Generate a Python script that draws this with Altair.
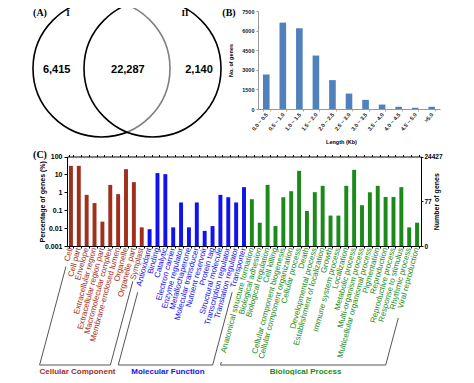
import math
import altair as alt
import pandas as pd

# ---------------- data ----------------
venn_sets = ["I", "II"]
venn_regions = ["I only", "I and II", "II only"]
venn_counts = [6415, 22287, 2140]

len_bins = ["0.0 ~ 0.5", "0.5 ~ 1.0", "1.0 ~ 1.5", "1.5 ~ 2.0", "2.0 ~ 2.5", "2.5 ~ 3.0",
            "3.0 ~ 3.5", "3.5 ~ 4.0", "4.0 ~ 4.5", "4.5 ~ 5.0", ">5.0"]
len_counts = [2640, 6610, 6180, 4090, 2210, 1180, 700, 340, 170, 95, 170]
len_ticks = [0, 1500, 3000, 4500, 6000, 7500]

cc_terms = ["Cell", "Cell part", "Envelope", "Extracellular region", "Extracellular region part",
            "Macromolecular complex", "Membrane-enclosed lumen", "Organelle", "Organelle part",
            "Symplast"]
cc_pct = [30, 30, 0.72, 0.25, 0.023, 2.6, 0.79, 19.6, 3.7, 0.011]
mf_terms = ["Antioxidant", "Binding", "Catalytic", "Electron carrier", "Enzyme regulator",
            "Metallochaperone", "Molecular transducer", "Nutrient reservoir", "Protein tag",
            "Structural molecule", "Transcription regulator", "Translation regulator",
            "Transporter"]
mf_pct = [0.0087, 11.8, 10.3, 0.011, 0.27, 0.011, 0.27, 0.007, 0.013, 0.72, 0.53, 0.27, 1.94]
bp_terms = ["Anatomical structure formation", "Biological adhesion", "Biological regulation",
            "Cell killing", "Cellular component biogenesis", "Cellular component organization",
            "Cellular process", "Death", "Developmental process",
            "Establishment of localization", "Growth", "Immune system process", "Localization",
            "Metabolic process", "Multi-organism process", "Multicellular organismal process",
            "Pigmentation", "Reproduction", "Reproductive process", "Response to stimulus",
            "Rhythmic process", "Viral reproduction"]
bp_pct = [0.41, 0.020, 2.6, 0.013, 0.53, 1.15, 15.8, 0.09, 1.02, 2.3, 0.050, 0.050, 2.3, 18,
          0.19, 1.0, 2.3, 0.55, 0.55, 1.94, 0.011, 0.020]
go_groups = ["Cellular Component", "Molecular Function", "Biological Process"]
go_pct_ticks = [0.001, 0.01, 0.1, 1, 10, 100]

# ---------------- layout / style ----------------
W, H = 458, 367
SANS = "Liberation Sans"
SERIF = "Liberation Serif"
go_colors = ["#a0301c", "#1212ee", "#1b8a1b"]
bar_blue = "#4f81bd"

# panel C geometry (chart pixels)
C_LEFT, C_RIGHT, C_TOP, C_BOT = 59, 413, 148.5, 238
LABEL_ANGLE = 75
label_gap = 2
char_w = 3.8
bracket_depth = 119

# ---------------- panel A : Venn ----------------
venn_df = pd.DataFrame({"set": venn_sets})
vx = alt.X("set:N", scale=alt.Scale(type="point", domain=venn_sets, range=[93.5, 144.5], padding=0), axis=None)
vy = alt.YDatum(0, type="quantitative",
                scale=alt.Scale(domain=[-1, 1], range=[121, 0], nice=False, zero=False), axis=None)
circle_I = alt.Chart(venn_df).transform_filter("datum.set == 'I'").mark_point(
    shape="circle", size=18769, filled=False, color="black", strokeWidth=1.6, opacity=1
).encode(x=vx, y=vy)
circle_II = alt.Chart(venn_df).transform_filter("datum.set == 'II'").mark_point(
    shape="circle", size=18769, filled=True, fill="white", fillOpacity=0.5,
    stroke="black", strokeWidth=1.6, strokeOpacity=1, opacity=1
).encode(x=vx, y=vy)

vt_df = pd.DataFrame({"region": venn_regions, "count": venn_counts})
venn_text = alt.Chart(vt_df).mark_text(font=SANS, fontWeight="bold", fontSize=11, color="black").encode(
    x=alt.X("region:N", scale=alt.Scale(type="point", domain=venn_regions, range=[48.7, 191], padding=0), axis=None),
    y=alt.YDatum(0, type="quantitative",
                 scale=alt.Scale(domain=[-1, 1], range=[124, 0], nice=False, zero=False), axis=None),
    text=alt.Text("count:Q", format=","),
)


def note(text, x, y, size=10, baseline="top", font=SERIF):
    return alt.Chart(pd.DataFrame({"t": [text]})).mark_text(
        font=font, fontWeight="bold", fontSize=size, align="center", baseline=baseline, color="black"
    ).encode(x=alt.value(x), y=alt.value(y), text="t:N")


notes = [note("(A)", 32, 0), note("(B)", 221, 0), note("(C)", 32, 147, baseline="middle"),
         note("I", 60, 1, size=9), note("II", 177, 1, size=9)]

# ---------------- panel B : length histogram ----------------
len_df = pd.DataFrame({"bin": len_bins, "genes": len_counts})
panel_b = alt.Chart(len_df).mark_bar(color=bar_blue).encode(
    x=alt.X("bin:N", sort=len_bins,
            scale=alt.Scale(type="band", domain=len_bins, range=[250, 432], paddingInner=0.6, paddingOuter=0.3),
            axis=alt.Axis(orient="bottom", offset=-266, title="Length (Kb)", labelAngle=-50,
                          labelFontSize=5.5, labelFontWeight="bold", labelColor="#222", labelPadding=2,
                          domainColor="#999", tickColor="#c8a878", tickBand="extent", tickSize=2,
                          titleFontSize=5.5, titleFontWeight="bold", titleX=333, titleY=32,
                          titleBaseline="middle")),
    y=alt.Y("genes:Q", scale=alt.Scale(domain=[0, 7500], range=[101, 3], nice=False),
            axis=alt.Axis(orient="left", offset=-250, values=len_ticks, format="d", title="No. of genes",
                          labelFontSize=5.5, labelFontWeight="bold", labelColor="#222", labelPadding=2,
                          domainColor="#999", tickColor="#999", tickSize=2,
                          titleFontSize=5.5, titleFontWeight="bold", titleX=-25)),
)

# ---------------- panel C : GO classification ----------------
terms = cc_terms + mf_terms + bp_terms
pcts = cc_pct + mf_pct + bp_pct
groups = ([go_groups[0]] * len(cc_terms) + [go_groups[1]] * len(mf_terms)
          + [go_groups[2]] * len(bp_terms))
go_df = pd.DataFrame({"term": terms, "pct": pcts, "group": groups})
total_II = venn_counts[1] + venn_counts[2]

band = alt.Scale(type="band", domain=terms, range=[C_LEFT, C_RIGHT], paddingInner=0.5, paddingOuter=0.25)
color_enc = alt.Color("group:N", scale=alt.Scale(domain=go_groups, range=go_colors), legend=None)
log_pct = alt.Scale(type="log", domain=[0.001, 100], range=[C_BOT, C_TOP], nice=False)
depth_scale = alt.Scale(domain=[0, bracket_depth], range=[C_BOT, C_BOT + bracket_depth], nice=False, zero=False)

go_bars = alt.Chart(go_df).mark_bar().encode(
    x=alt.X("term:N", sort=terms, scale=band,
            axis=alt.Axis(orient="bottom", offset=-(H - C_BOT), labels=False, title=None,
                          domainColor="black", tickColor="black", tickSize=2, tickBand="extent")),
    y=alt.Y("pct:Q", scale=log_pct,
            axis=alt.Axis(orient="left", offset=-C_LEFT, values=go_pct_ticks,
                          labelExpr="format(datum.value, '~g')", title="Percentage of genes (%)",
                          labelFontSize=7, labelFontWeight="bold", labelColor="black", labelPadding=2,
                          domainColor="black", tickColor="black", tickSize=3,
                          titleFontSize=7, titleFontWeight="bold", titleX=-22)),
    y2=alt.Y2Datum(0.001),
    color=color_enc,
)

go_labels = alt.Chart(go_df).mark_text(
    angle=360 - LABEL_ANGLE, align="right", baseline="middle", fontSize=8, font=SANS
).encode(
    x=alt.X("term:N", sort=terms, scale=band,
            axis=alt.Axis(orient="top", offset=-C_TOP, labels=False, title=None,
                          domainColor="black", tickColor="black", tickSize=2, tickBand="extent")),
    y=alt.YDatum(label_gap, type="quantitative", scale=depth_scale, axis=None),
    text="term:N",
    color=color_enc,
)

go_counts = alt.Chart(go_df).transform_calculate(
    genes=f"datum.pct * {total_II} / 100"
).mark_point(opacity=0).encode(
    x=alt.X("term:N", sort=terms, scale=band, axis=None),
    y=alt.Y("genes:Q",
            scale=alt.Scale(type="log", domain=[total_II * 0.001 / 100, total_II],
                            range=[C_BOT, C_TOP], nice=False),
            axis=alt.Axis(orient="right", offset=-(W - C_RIGHT),
                          values=[total_II * 0.001 / 100, math.sqrt(total_II * 0.001 / 100 * total_II), total_II],
                          labelExpr="format(datum.value, '.0f')", title="Number of genes",
                          labelFontSize=6.5, labelFontWeight="bold", labelColor="black", labelPadding=1,
                          domainColor="black", tickColor="black", tickSize=2,
                          titleFontSize=7, titleFontWeight="bold", titleAngle=270, titleX=18)),
)

# brackets under each GO group (follow the slant of the first / last label)
step = (C_RIGHT - C_LEFT) / len(terms)
ca, sa = math.cos(math.radians(LABEL_ANGLE)), math.sin(math.radians(LABEL_ANGLE))
s_bot = (bracket_depth - label_gap) / sa
rows, grp_rows = [], []
start = 0
for g, lst in zip(go_groups, [cc_terms, mf_terms, bp_terms]):
    f, l = start, start + len(lst) - 1
    s_f = min(len(lst[0]) * char_w + 4, s_bot)
    s_l = min(len(lst[-1]) * char_w + 4, s_bot)
    pts = [(f, s_f), (f, s_bot), (l, s_bot), (l, s_l)]
    for k, (i, s) in enumerate(pts):
        rows.append({"group": g, "ord": k, "xi": i + 0.5 - s * ca / step, "depth": label_gap + s * sa})
    xb = ((f + 0.5 - s_bot * ca / step) + (l + 0.5 - s_bot * ca / step)) / 2 + 2.5 / step
    grp_rows.append({"group": g, "xi": xb, "depth": bracket_depth + 7})
    start += len(lst)
br_df = pd.DataFrame(rows)
gl_df = pd.DataFrame(grp_rows)
idx_scale = alt.Scale(domain=[0, len(terms)], range=[C_LEFT, C_RIGHT], nice=False, zero=False)

brackets = alt.Chart(br_df).mark_line(color="#555", strokeWidth=1).encode(
    x=alt.X("xi:Q", scale=idx_scale, axis=None),
    y=alt.Y("depth:Q", scale=depth_scale, axis=None),
    detail="group:N",
    order="ord:Q",
)
group_labels = alt.Chart(gl_df).mark_text(font=SANS, fontWeight="bold", fontSize=8, baseline="middle").encode(
    x=alt.X("xi:Q", scale=idx_scale, axis=None),
    y=alt.Y("depth:Q", scale=depth_scale, axis=None),
    text="group:N",
    color=color_enc,
)

layers = [circle_I, circle_II, venn_text, panel_b, go_bars, go_labels, go_counts, brackets, group_labels] + notes

chart = alt.layer(*layers).properties(
    width=W, height=H, autosize=alt.AutoSizeParams(type="none"), padding=0
).resolve_scale(
    x="independent", y="independent", color="independent"
).configure_view(stroke=None).configure_axis(
    grid=False, labelFont=SANS, titleFont=SANS, titleColor="black"
)

chart.save("out.html", embed_options={"renderer": "svg", "actions": False})
